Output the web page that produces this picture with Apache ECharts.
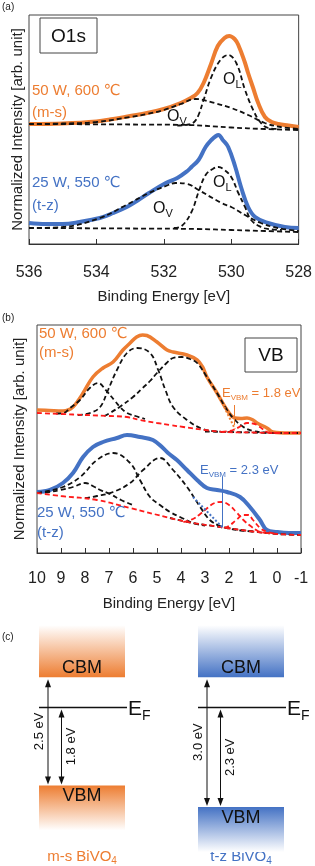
<!DOCTYPE html>
<html><head><meta charset="utf-8">
<script src="https://cdn.jsdelivr.net/npm/echarts@6/dist/echarts.min.js"></script>
<style>html,body{margin:0;padding:0;background:#fff}#c{width:315px;height:866px}</style>
</head><body><div id="c"></div>
<script>
const FONT = "'Liberation Sans', Arial, 'DejaVu Sans', sans-serif";
const ORANGE = '#ED7D31', BLUE = '#4472C4', RED = '#FF1A1A', DASH = '#111';

// ---------- panel (a) O1s ----------
const o1sTicks = [528, 530, 532, 534, 536];
const o1sMs = [[536,120],[535,120.5],[534,122.5],[533.5,125],[533,128],[532.5,131],[532,135],[531.5,141],[531.2,146],[531,151],[530.82,161],[530.6,180],[530.4,198],[530.2,206],[530.06,208],[529.9,205],[529.79,199],[529.6,182],[529.5,171],[529.35,156],[529.2,141],[529,127],[528.8,122],[528.6,120],[528.3,118.5],[528,117]];
const o1sMsOL = [[531.6,118.5],[531.26,119.5],[531.1,122],[530.97,129],[530.82,144],[530.59,167],[530.32,184],[530.09,189],[529.85,181],[529.59,154],[529.35,134],[529.12,121],[528.9,116],[528.6,115]];
const o1sMsOV = [[536,120],[535,120.5],[534,122],[533,127],[532.5,130],[532,134],[531.5,140],[531.06,145],[530.5,141],[530.0,136],[529.5,129],[529.0,121],[528.53,117],[528,115]];
const o1sMsBase = [[536,120],[533,119.5],[531.3,119],[530,116.5],[529,115],[528,114]];
const o1sTz = [[536,21],[535.5,20],[535,20],[534.5,22],[533.9,26],[533.5,31],[533.1,37],[532.8,43],[532.44,51],[531.94,61],[531.6,66],[531.3,73],[531.18,77],[530.97,84],[530.76,97],[530.59,104],[530.45,108],[530.38,109],[530.25,104],[530.09,97],[529.88,77],[529.71,57],[529.5,37],[529.29,27],[528.91,21],[528.41,17],[528,16]];
const o1sTzOL = [[531.7,16],[531.47,18],[531.18,32],[530.97,52],[530.76,69],[530.55,75],[530.38,77],[530.2,74],[530.0,67],[529.79,51],[529.59,37],[529.41,24],[529.12,17],[528.9,15],[528.5,14]];
const o1sTzOV = [[536,16],[535,17],[533.9,26],[533.12,39],[532.44,51],[531.94,58],[531.65,61],[531.3,60],[530.97,54],[530.29,41],[530.0,37],[529.59,29],[529.12,21],[528.62,16],[528,13]];
const o1sTzBase = [[536,16],[533,15.5],[531,15],[530,14],[529,13],[528,12]];

// ---------- panel (b) VB ----------
const vbTicks = [-1,0,1,2,3,4,5,6,7,8,9,10];
const vbMs = [[10,143],[9.5,142.5],[8.92,142],[8.7,143],[8.5,146],[8.3,152],[8.08,160],[7.67,176],[7.25,185],[6.83,191],[6.42,203],[6.12,210],[5.85,216],[5.6,218],[5.42,217.5],[5.0,211],[4.58,203],[4.33,201],[3.75,198],[3.33,193],[3.1,186],[2.92,176],[2.5,160],[2.08,143],[1.75,135],[1.5,134.5],[1.25,135],[1.0,133],[0.83,130],[0.42,125],[0.17,121],[-0.5,120],[-1,120]];
const vbMsP1 = [[9.2,139.5],[8.9,140],[8.62,145],[8.21,153],[7.8,165],[7.46,170],[7.1,162],[6.75,152],[6.54,146],[6.25,140],[5.9,137],[5.5,134]];
const vbMsP2 = [[8.3,138],[7.79,140],[7.37,146],[7.04,163],[6.67,183],[6.25,200],[5.83,205],[5.29,200],[4.95,183],[4.65,163],[4.33,146],[3.75,133],[3.1,124],[2.5,121.5],[2.0,121]];
const vbMsP3 = [[7.2,137],[6.96,140],[6.5,147],[6.0,156],[5.6,165],[5.29,172],[5.0,180],[4.6,190],[4.33,195],[3.96,196],[3.62,194],[3.33,190],[2.92,176],[2.5,160],[2.08,143],[1.75,133],[1.4,126],[1.0,122],[0.5,120.5],[0,120]];
const vbMsBg = [[10,140],[8.5,138.5],[7,137],[6.25,136],[5.71,133],[5,130],[4.46,128],[3.9,126],[3,123],[2.2,121],[1,120.5],[0,120],[-1,120]];
const vbMsRed = [[2.3,121],[1.83,123],[1.5,127],[1.25,130],[1.0,129.5],[0.83,128],[0.6,124],[0.42,121],[0,120]];
const vbMsBase = [[3,121.5],[2,121],[1,120.5],[0,120],[-1,120]];
const vbMsTan = [[2.2,146],[1.75,124]];
const vbTz = [[10,61],[9.46,63],[8.92,70],[8.5,80],[8.08,96],[7.67,106],[7.25,111],[6.67,115],[6.25,118],[5.71,116],[5.17,113],[4.75,105],[4.54,100],[4.17,93],[3.75,83],[3.33,73],[2.92,65],[2.5,63],[2.08,61],[1.54,56],[1.13,46],[0.71,33],[0.42,23],[0,21],[-0.5,20],[-1,20]];
const vbTzA = [[10,60],[9.5,61],[9.04,63],[8.5,66],[8.0,70],[7.6,66],[7.37,63],[6.96,59],[6.5,53],[6.0,48]];
const vbTzB = [[10,60],[9.75,61],[8.92,66],[8.2,76],[7.5,93],[6.83,100],[6.12,90],[5.71,73],[5.29,56],[4.875,48],[4.46,41],[4.04,36],[3.5,30],[3.0,27.5]];
const vbTzC = [[8.0,55],[7.5,57],[6.83,61],[6.12,70],[5.58,83],[4.875,95],[4.33,83],[3.75,66],[3.2,46],[2.8,33],[2.375,27],[2.0,24.5],[1.5,22.5],[1.0,21.5]];
const vbTzBg = [[10,60],[9,57],[7.5,53],[6.12,45],[4.46,35],[3.5,30],[2.5,26.5],[2.08,25],[1.0,21.5],[0,19],[-1,18]];
const vbTzBase = [[4.46,35],[3.5,30],[2.5,26.5],[2.08,25],[1.0,21.5],[0,19],[-1,18]];
const vbTzR1 = [[3.9,31],[3.5,34],[3.2,39],[2.9,45],[2.6,50],[2.3,51],[2.0,48],[1.7,41],[1.4,33],[1.1,27],[0.8,22],[0.5,20]];
const vbTzR2 = [[2.2,25],[2.0,27],[1.7,33],[1.4,38],[1.2,38],[1.0,33],[0.7,25],[0.4,21],[0.1,19.5]];
const vbTzTan = [[3.5,56],[2.25,25]];

// ---------- panel (c) band diagram ----------
const bandSamples = ['m-s', 't-z'];
const bandVbm = [1.8, 2.3];   // eV below E_F
const bandGap = [2.5, 3.0];   // eV

const chart = echarts.init(document.getElementById('c'), null, {renderer: 'canvas'});

function ln(data, xi, color, width, type, z) {
  return {type: 'line', xAxisIndex: xi, yAxisIndex: xi, data: data, showSymbol: false, smooth: 0.4,
    lineStyle: {color: color, width: width, type: type}, z: z, silent: true};
}
const DT = [5, 3];

function xAx(idx, ticks, gap, margin) {
  return {type: 'value', gridIndex: idx, inverse: true, min: ticks[0], max: ticks[ticks.length - 1],
    interval: ticks[1] - ticks[0],
    axisLine: {show: true, lineStyle: {color: '#333', width: 1}},
    axisTick: {show: true, inside: true, length: 5, lineStyle: {color: '#333'}},
    axisLabel: {fontSize: 16, color: '#222', fontFamily: FONT, margin: margin},
    splitLine: {show: false},
    name: 'Binding Energy [eV]', nameLocation: 'middle', nameGap: gap,
    nameTextStyle: {fontSize: 15, color: '#222', fontFamily: FONT}};
}
function yAx(idx, max, gap) {
  return {type: 'value', gridIndex: idx, min: 0, max: max,
    axisLine: {show: false}, axisTick: {show: false}, axisLabel: {show: false}, splitLine: {show: false},
    name: 'Normalized Intensity [arb. unit]', nameLocation: 'middle', nameGap: gap,
    nameTextStyle: {fontSize: 15, color: '#222', fontFamily: FONT}};
}

function arrow(x, y1, y2) {
  const h = 8, w = 3;
  return [
    {type: 'line', shape: {x1: x, y1: y1 + h - 1, x2: x, y2: y2 - h + 1}, style: {stroke: '#111', lineWidth: 1}},
    {type: 'polygon', shape: {points: [[x, y1], [x - w, y1 + h], [x + w, y1 + h]]}, style: {fill: '#111'}},
    {type: 'polygon', shape: {points: [[x, y2], [x - w, y2 - h], [x + w, y2 - h]]}, style: {fill: '#111'}}
  ];
}

function renderBand(params, api) {
  const i = api.value(0), vbm = api.value(1), gap = api.value(2);
  const c = [ORANGE, BLUE][i];
  const pEF = api.coord([i, 0]);
  const xC = pEF[0], yEF = pEF[1];
  const yC = api.coord([i, gap - vbm])[1];
  const yV = api.coord([i, -vbm])[1];
  const w = 86, left = xC - w / 2;
  const xL = left + 9, xS = left + 22.5;
  const kids = [
    {type: 'rect', shape: {x: left, y: yC - 52, width: w, height: 52},
      style: {fill: new echarts.graphic.LinearGradient(0, 0, 0, 1, [{offset: 0, color: '#ffffff'}, {offset: 1, color: c}])}},
    {type: 'text', x: xC, y: yC - 9, style: {text: 'CBM', font: '18px ' + FONT, fill: '#111', align: 'center', verticalAlign: 'middle'}},
    {type: 'rect', shape: {x: left, y: yV, width: w, height: 45},
      style: {fill: new echarts.graphic.LinearGradient(0, 0, 0, 1, [{offset: 0, color: c}, {offset: 1, color: '#ffffff'}])}},
    {type: 'text', x: xC, y: yV + 11, style: {text: 'VBM', font: '18px ' + FONT, fill: '#111', align: 'center', verticalAlign: 'middle'}},
    {type: 'line', shape: {x1: left, y1: yEF, x2: left + 88, y2: yEF}, style: {stroke: '#111', lineWidth: 1.5}},
    {type: 'text', x: left + 89, y: yEF + 2, style: {text: '{e|E}{s|F}', align: 'left', verticalAlign: 'middle',
      rich: {e: {fontSize: 21, fontFamily: FONT, fill: '#111', verticalAlign: 'bottom'}, s: {fontSize: 14, fontFamily: FONT, fill: '#111', verticalAlign: 'bottom', padding: [0, 0, -3, 0]}}}},
    {type: 'text', x: xL - 9, y: (yC + yV) / 2, rotation: Math.PI / 2,
      style: {text: gap.toFixed(1) + ' eV', font: '13px ' + FONT, fill: '#111', align: 'center', verticalAlign: 'middle'}},
    {type: 'text', x: xS + 10, y: (yEF + yV) / 2, rotation: Math.PI / 2,
      style: {text: vbm.toFixed(1) + ' eV', font: '13px ' + FONT, fill: '#111', align: 'center', verticalAlign: 'middle'}}
  ].concat(arrow(xL, yC + 2, yV - 1)).concat(arrow(xS, yEF + 2, yV - 1));
  return {type: 'group', children: kids};
}

function txt(x, y, text, color, size) {
  return {type: 'text', x: x, y: y, style: {text: text, fill: color, font: size + 'px ' + FONT, align: 'left', verticalAlign: 'middle'}, z: 50};
}
function subTxt(x, y, main, sub, rest, color, size, subSize) {
  return {type: 'text', x: x, y: y, z: 50, style: {text: '{m|' + main + '}{s|' + sub + '}' + (rest ? '{m|' + rest + '}' : ''),
    align: 'left', verticalAlign: 'middle',
    rich: {m: {fontSize: size, fontFamily: FONT, fill: color, verticalAlign: 'bottom'},
           s: {fontSize: subSize, fontFamily: FONT, fill: color, verticalAlign: 'bottom', padding: [0, 0, -2, 0]}}}};
}
function box(x, y, w, h, label) {
  return [{type: 'rect', shape: {x: x, y: y, width: w, height: h}, style: {fill: '#fff', stroke: '#444', lineWidth: 1}, z: 49},
          {type: 'text', x: x + w / 2, y: y + h / 2 + 1, z: 50, style: {text: label, font: '19px ' + FONT, fill: '#111', align: 'center', verticalAlign: 'middle'}}];
}

const option = {
  animation: false,
  backgroundColor: '#fff',
  grid: [
    {left: 29, right: 14, top: 15, height: 229, show: true, borderColor: '#444', borderWidth: 1, backgroundColor: 'transparent'},
    {left: 37, right: 14, top: 325, height: 228, show: true, borderColor: '#444', borderWidth: 1, backgroundColor: 'transparent'},
    {left: 82, right: 74, top: 621, height: 226}
  ],
  xAxis: [
    xAx(0, o1sTicks.slice().sort((a, b) => a - b), 45, 21),
    xAx(1, vbTicks, 43, 18),
    {type: 'category', gridIndex: 2, data: bandSamples, boundaryGap: false,
      axisLine: {show: false}, axisTick: {show: false}, splitLine: {show: false},
      axisLabel: {margin: 0, interval: 0, formatter: (v, i) => (i === 0 ? '{o|' + v + ' BiVO}{os|4}' : '{b|' + v + ' BiVO}{bs|4}'),
        rich: {o: {fontSize: 15, fontFamily: FONT, color: ORANGE, verticalAlign: 'bottom', lineHeight: 18},
               os: {fontSize: 10, fontFamily: FONT, color: ORANGE, verticalAlign: 'bottom', lineHeight: 18, padding: [0, 0, -2, 0]},
               b: {fontSize: 15, fontFamily: FONT, color: BLUE, verticalAlign: 'bottom', lineHeight: 18},
               bs: {fontSize: 10, fontFamily: FONT, color: BLUE, verticalAlign: 'bottom', lineHeight: 18, padding: [0, 0, -2, 0]}}}}
  ],
  yAxis: [
    yAx(0, 229, 4),
    yAx(1, 228, 10),
    {type: 'value', gridIndex: 2, min: -3.2, max: 2, show: false}
  ],
  series: [
    ln(o1sMs, 0, ORANGE, 4, 'solid', 2),
    ln(o1sTz, 0, BLUE, 4, 'solid', 2),
    ln(o1sMsBase, 0, DASH, 1.8, DT, 3),
    ln(o1sMsOV, 0, DASH, 1.8, DT, 3),
    ln(o1sMsOL, 0, DASH, 1.8, DT, 3),
    ln(o1sTzBase, 0, DASH, 1.8, DT, 3),
    ln(o1sTzOV, 0, DASH, 1.8, DT, 3),
    ln(o1sTzOL, 0, DASH, 1.8, DT, 3),

    ln(vbMs, 1, ORANGE, 3.5, 'solid', 2),
    ln(vbTz, 1, BLUE, 4, 'solid', 2),
    ln(vbMsBase, 1, DASH, 1.8, DT, 3),
    ln(vbMsP1, 1, DASH, 1.8, DT, 3),
    ln(vbMsP2, 1, DASH, 1.8, DT, 3),
    ln(vbMsP3, 1, DASH, 1.8, DT, 3),
    ln(vbTzBase, 1, DASH, 1.8, DT, 3),
    ln(vbTzA, 1, DASH, 1.8, DT, 3),
    ln(vbTzB, 1, DASH, 1.8, DT, 3),
    ln(vbTzC, 1, DASH, 1.8, DT, 3),
    ln(vbMsBg, 1, RED, 1.8, DT, 4),
    ln(vbMsRed, 1, RED, 1.8, DT, 4),
    ln(vbTzBg, 1, RED, 1.8, DT, 4),
    ln(vbTzR1, 1, RED, 1.8, DT, 4),
    ln(vbTzR2, 1, RED, 1.8, DT, 4),
    Object.assign(ln(vbMsTan, 1, ORANGE, 2, 'dotted', 5), {smooth: false,
      markLine: {symbol: 'none', silent: true, label: {show: false}, lineStyle: {color: ORANGE, width: 1, type: 'solid'},
        data: [[{coord: [bandVbm[0], 148]}, {coord: [bandVbm[0], 128]}]]}}),
    Object.assign(ln(vbTzTan, 1, BLUE, 2, 'dotted', 5), {smooth: false,
      markLine: {symbol: 'none', silent: true, label: {show: false}, lineStyle: {color: BLUE, width: 1, type: 'solid'},
        data: [[{coord: [bandVbm[1], 76]}, {coord: [bandVbm[1], 26]}]]}}),

    {type: 'custom', xAxisIndex: 2, yAxisIndex: 2, silent: true, clip: false,
      data: bandSamples.map((s, i) => [i, bandVbm[i], bandGap[i]]),
      renderItem: renderBand}
  ],
  graphic: [
    txt(2, 7, '(a)', '#222', 10),
    txt(2, 318, '(b)', '#222', 10),
    txt(2, 637, '(c)', '#222', 10),
    ...box(40, 18, 57, 35, 'O1s'),
    ...box(245, 338, 52, 34, 'VB'),
    txt(32, 90.5, '50 W, 600 ℃', ORANGE, 15),
    txt(32, 112.5, '(m-s)', ORANGE, 15),
    txt(32, 183, '25 W, 550 ℃', BLUE, 15),
    txt(32, 205.5, '(t-z)', BLUE, 15),
    txt(39, 334, '50 W, 600 ℃', ORANGE, 15),
    txt(39, 353, '(m-s)', ORANGE, 15),
    txt(37, 512.5, '25 W, 550 ℃', BLUE, 15),
    txt(37, 532.5, '(t-z)', BLUE, 15),
    subTxt(223, 80, 'O', 'L', '', '#111', 16, 11),
    subTxt(167, 117, 'O', 'V', '', '#111', 16, 11),
    subTxt(213, 183, 'O', 'L', '', '#111', 16, 11),
    subTxt(153, 209, 'O', 'V', '', '#111', 16, 11),
    subTxt(222, 393, 'E', 'VBM', ' = 1.8 eV', ORANGE, 13, 8),
    subTxt(200, 470, 'E', 'VBM', ' = 2.3 eV', BLUE, 13, 8)
  ]
};
chart.setOption(option);
</script></body></html>
